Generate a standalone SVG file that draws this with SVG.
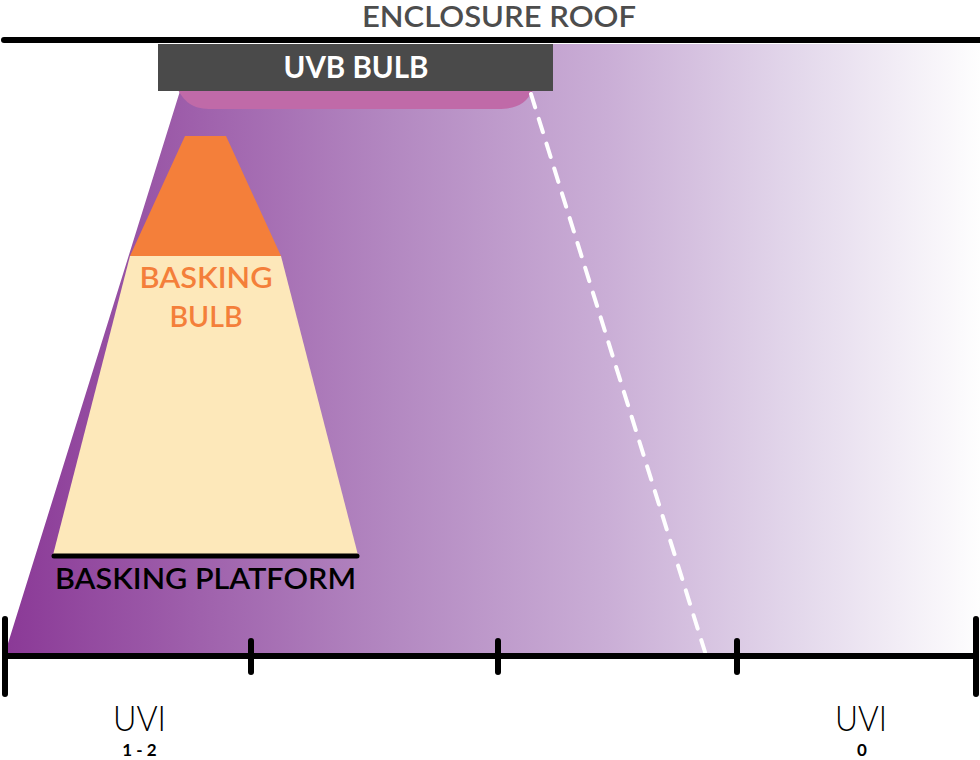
<svg xmlns="http://www.w3.org/2000/svg" width="980" height="760" viewBox="0 0 980 760">
<defs>
<linearGradient id="uvGrad" x1="0" y1="0" x2="980" y2="0" gradientUnits="userSpaceOnUse">
<stop offset="0" stop-color="#8a3896"/>
<stop offset="0.4" stop-color="#b388c1"/>
<stop offset="0.62" stop-color="#caaed6"/>
<stop offset="0.82" stop-color="#e4d9ec"/>
<stop offset="1" stop-color="#fefefe"/>
</linearGradient>
<style>
.lbl{font-family:"Lato","Noto Sans","Liberation Sans",sans-serif;}
.mid{font-weight:600;}
.bar{stroke:#000;stroke-width:6;stroke-linecap:round;fill:none;}
.tick{stroke:#000;stroke-width:6;stroke-linecap:round;fill:none;}
</style>
</defs>
<rect width="980" height="760" fill="#ffffff"/>

<g id="uv-zone">
<polygon points="180,91 180,44 980,44 980,653 5,653" fill="url(#uvGrad)"/>
</g>

<g id="roof">
<line class="bar" x1="4" y1="40" x2="980" y2="40"/>
<text class="lbl mid" x="499" y="27" text-anchor="middle" font-size="28" fill="#4d4d4d" textLength="274" lengthAdjust="spacingAndGlyphs">ENCLOSURE ROOF</text>
</g>

<g id="uvb-bulb">
<path d="M178,90 C186,104 194,109 212,109 L498,109 C516,109 526,104 533,90 Z" fill="#c06aa8"/>
<rect x="158" y="44" width="395" height="47" fill="#4a4a4a"/>
<text class="lbl" x="356" y="78" text-anchor="middle" font-size="30" font-weight="bold" fill="#ffffff" textLength="145" lengthAdjust="spacingAndGlyphs">UVB BULB</text>
</g>

<g id="connectors">
<line x1="531" y1="94" x2="705" y2="652" stroke="#ffffff" stroke-width="4" stroke-linecap="round" stroke-dasharray="14 12"/>
</g>

<g id="basking-bulb">
<polygon points="185,136 226,136 281,256 130,256" fill="#f47f3a"/>
<polygon points="130,256 281,256 358,555 53,555" fill="#fde8ba"/>
<text class="lbl mid" x="206" y="288" text-anchor="middle" font-size="28" fill="#f47f3a" textLength="133" lengthAdjust="spacingAndGlyphs">BASKING</text>
<text class="lbl mid" x="206" y="327" text-anchor="middle" font-size="28" fill="#f47f3a" textLength="73" lengthAdjust="spacingAndGlyphs">BULB</text>
</g>

<g id="basking-platform">
<line x1="54" y1="556" x2="357" y2="556" stroke="#000" stroke-width="5" stroke-linecap="round"/>
<text class="lbl mid" x="205.5" y="589" text-anchor="middle" font-size="29" fill="#000" textLength="301" lengthAdjust="spacingAndGlyphs">BASKING PLATFORM</text>
</g>

<g id="uvi-axis">
<line class="bar" x1="5" y1="656" x2="976" y2="656"/>
<line class="tick" x1="5" y1="619" x2="5" y2="694"/>
<line class="tick" x1="251" y1="641" x2="251" y2="672"/>
<line class="tick" x1="498" y1="641" x2="498" y2="672"/>
<line class="tick" x1="737" y1="641" x2="737" y2="672"/>
<line class="tick" x1="976" y1="619" x2="976" y2="694"/>
</g>

<g id="uvi-high">
<text class="lbl" x="139.5" y="731" text-anchor="middle" font-size="35" font-weight="300" fill="#000" textLength="53" lengthAdjust="spacingAndGlyphs">UVI</text>
<text class="lbl" x="139.5" y="756" text-anchor="middle" font-size="17" font-weight="bold" fill="#000">1 - 2</text>
</g>

<g id="uvi-low">
<text class="lbl" x="861" y="731" text-anchor="middle" font-size="35" font-weight="300" fill="#000" textLength="52" lengthAdjust="spacingAndGlyphs">UVI</text>
<text class="lbl" x="862" y="756" text-anchor="middle" font-size="17" font-weight="bold" fill="#000">0</text>
</g>
</svg>
